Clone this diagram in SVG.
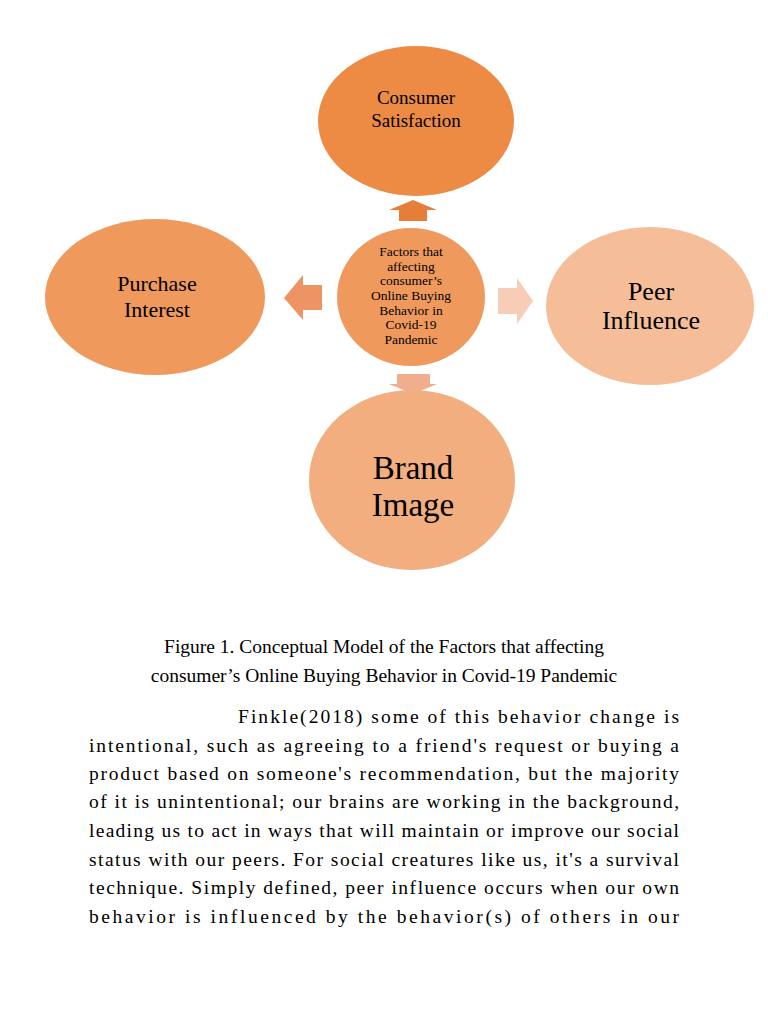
<svg xmlns="http://www.w3.org/2000/svg" width="768" height="1024" viewBox="0 0 768 1024">
<style>
text{font-family:"Liberation Serif","Times New Roman",serif;fill:#000}
.n{text-anchor:middle}
.b{font-size:19.5px}
</style>
<rect width="768" height="1024" fill="#fff"/>
<g id="connectors">
<path d="M399,221 V210 H389 L413,200 L437,210 H427 V221 Z" fill="#E67E37"/>
<path d="M322,285 H303 V275 L284,298 L303,320 V310 H322 Z" fill="#EE9363"/>
<path d="M498,288 H517 V278 L533,301 L517,324 V314 H498 Z" fill="#F8CDB8"/>
<path d="M397,374 H430 V384 H437 L413,394 L389,384 H397 Z" fill="#F0AE8C"/>
</g>
<g id="top"><ellipse cx="416" cy="121" rx="98" ry="75" fill="#ED8B45"/>
<text class="n" font-size="19" x="416" y="104">Consumer</text><text class="n" font-size="19" x="416" y="127">Satisfaction</text></g>
<g id="left"><ellipse cx="155" cy="297" rx="110" ry="78" fill="#EF9A5C"/>
<text class="n" font-size="22" x="157" y="291">Purchase</text><text class="n" font-size="22" x="157" y="317">Interest</text></g>
<g id="right"><ellipse cx="650" cy="306" rx="104" ry="79" fill="#F5BE98"/>
<text class="n" font-size="26" x="651" y="300">Peer</text><text class="n" font-size="26" x="651" y="329">Influence</text></g>
<g id="bottom"><ellipse cx="412" cy="480" rx="103" ry="90" fill="#F2AE7E"/>
<text class="n" font-size="33" x="413" y="479">Brand</text><text class="n" font-size="33" x="413" y="516">Image</text></g>
<g id="center"><ellipse cx="411" cy="297" rx="74" ry="69" fill="#EF9A5C"/>
<text class="n" font-size="13.5" x="411" y="256">Factors that</text>
<text class="n" font-size="13.5" x="411" y="271">affecting</text>
<text class="n" font-size="13.5" x="411" y="285">consumer’s</text>
<text class="n" font-size="13.5" x="411" y="300">Online Buying</text>
<text class="n" font-size="13.5" x="411" y="315">Behavior in</text>
<text class="n" font-size="13.5" x="411" y="329">Covid-19</text>
<text class="n" font-size="13.5" x="411" y="344">Pandemic</text></g>
<g id="caption" font-size="19.5">
<text class="n" x="384" y="653">Figure 1. Conceptual Model of the Factors that affecting</text>
<text class="n" x="384" y="682">consumer’s Online Buying Behavior in Covid-19 Pandemic</text>
</g>
<g id="body" class="b">
<text x="238" y="723" textLength="441" lengthAdjust="spacing">Finkle(2018) some of this behavior change is</text>
<text x="89" y="752" textLength="590" lengthAdjust="spacing">intentional, such as agreeing to a friend's request or buying a</text>
<text x="89" y="780" textLength="590" lengthAdjust="spacing">product based on someone's recommendation, but the majority</text>
<text x="89" y="808" textLength="590" lengthAdjust="spacing">of it is unintentional; our brains are working in the background,</text>
<text x="89" y="837" textLength="590" lengthAdjust="spacing">leading us to act in ways that will maintain or improve our social</text>
<text x="89" y="866" textLength="590" lengthAdjust="spacing">status with our peers. For social creatures like us, it's a survival</text>
<text x="89" y="894" textLength="590" lengthAdjust="spacing">technique. Simply defined, peer influence occurs when our own</text>
<text x="89" y="923" textLength="590" lengthAdjust="spacing">behavior is influenced by the behavior(s) of others in our</text>
</g>
</svg>
